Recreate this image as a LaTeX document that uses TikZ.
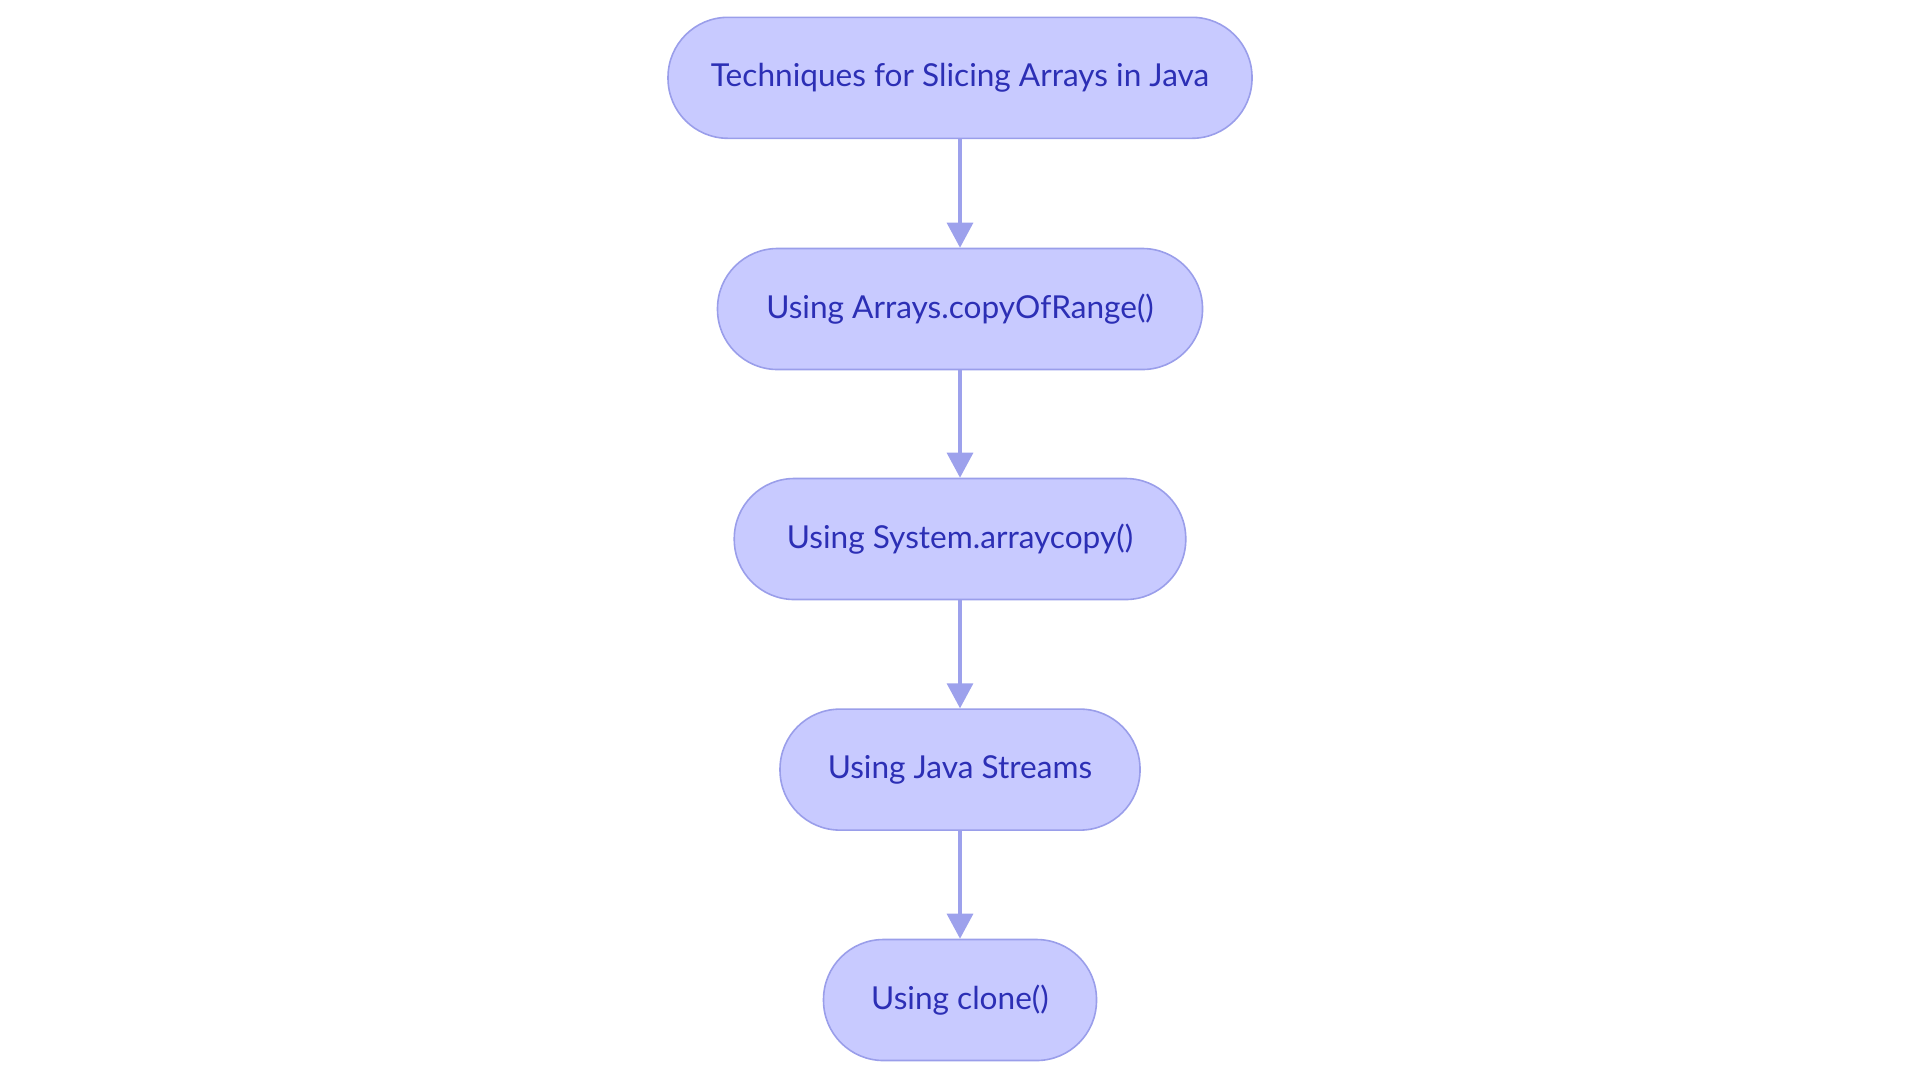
\documentclass[tikz,border=0pt]{standalone}
\usepackage{fontspec}
\setmainfont{Lato}
\usetikzlibrary{arrows.meta}
\definecolor{nodefill}{HTML}{C8CAFF}
\definecolor{nodeline}{HTML}{9A9EEA}
\definecolor{nodetext}{HTML}{2C2FB5}
\definecolor{arrowcol}{HTML}{9DA1EC}
\tikzset{
  pill/.style={draw=nodeline, line width=0.8pt, fill=nodefill, rounded corners=30pt,
    minimum height=60.5pt, text=nodetext, font=\fontsize{15.8pt}{18pt}\selectfont, inner sep=0pt},
  conn/.style={draw=arrowcol, line width=1.6pt, -{Triangle[width=13pt,length=12.5pt]}}
}
\begin{document}
\begin{tikzpicture}
\useasboundingbox (0,0) rectangle (960pt,-541.5pt);
\node[pill, minimum width=292pt] (n1) at (480pt,-38.9pt) {Techniques for Slicing Arrays in Java};
\node[pill, minimum width=242.5pt] (n2) at (480pt,-154.5pt) {Using Arrays.copyOfRange()};
\node[pill, minimum width=225.75pt] (n3) at (480pt,-269.5pt) {Using System.arraycopy()};
\node[pill, minimum width=180pt] (n4) at (480pt,-384.8pt) {Using Java Streams};
\node[pill, minimum width=136.5pt] (n5) at (480pt,-500pt) {Using clone()};
\draw[conn] (n1) -- (n2);
\draw[conn] (n2) -- (n3);
\draw[conn] (n3) -- (n4);
\draw[conn] (n4) -- (n5);
\end{tikzpicture}
\end{document}
